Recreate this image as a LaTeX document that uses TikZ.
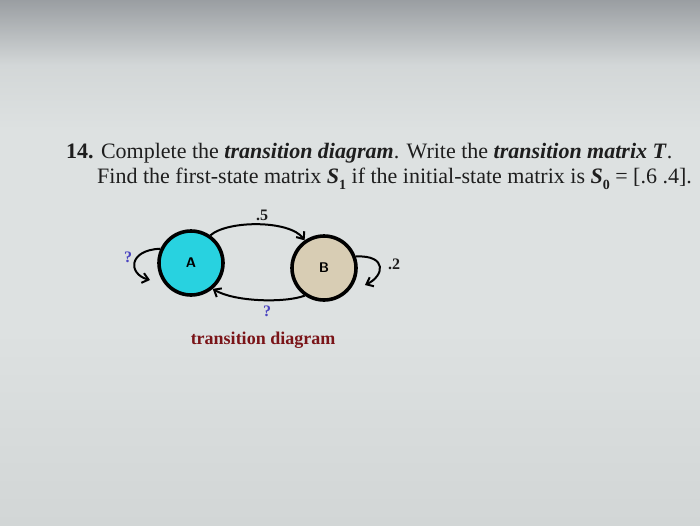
\documentclass[tikz,border=0pt]{standalone}
\usepackage{fontspec}
\setmainfont{Liberation Serif}
\usetikzlibrary{arrows.meta}
\definecolor{bgtop}{HTML}{9A9EA2}
\definecolor{bgmid}{HTML}{DDE1E1}
\definecolor{bgbot}{HTML}{D2D6D6}
\definecolor{stateA}{HTML}{28D2E0}
\definecolor{stateB}{HTML}{D8CDB4}
\definecolor{qblue}{HTML}{4A44C0}
\definecolor{capred}{HTML}{7A1418}
\definecolor{txt}{HTML}{1E1E1E}
\newcommand{\subbf}[1]{\raisebox{-0.3em}{\fontsize{14}{16}\selectfont\textbf{#1}}}
\tikzset{
  state/.style={circle, draw=black, line width=3.6pt, minimum size=64pt, inner sep=0pt, font=\sffamily\bfseries\fontsize{14}{16}\selectfont},
  trans/.style={line width=2pt, -{Straight Barb[length=6pt,width=10pt,line width=2pt]}},
  lbl/.style={font=\bfseries\fontsize{16}{18}\selectfont, text=txt},
  qlbl/.style={font=\bfseries\fontsize{16}{18}\selectfont, text=qblue},
}
\begin{document}
\begin{tikzpicture}[x=1pt,y=-1pt]
\useasboundingbox (0,0) rectangle (700,525);
\shade[top color=bgtop, bottom color=bgmid, middle color=bgmid!85!bgtop] (0,0) rectangle (700,130);
\fill[bgmid] (0,130) rectangle (700,330);
\shade[top color=bgmid, bottom color=bgbot] (0,330) rectangle (700,525);
% text
\node[anchor=base west, inner sep=0pt, text=txt, font=\fontsize{22}{26}\selectfont] (l1) at (66,158)
  {\textbf{14.} Complete the \textbf{\textit{transition diagram}}. Write the \textbf{\textit{transition matrix T}}.};
\node[anchor=base west, inner sep=0pt, text=txt, font=\fontsize{22}{26}\selectfont] (l2) at (97,183)
  {Find the first-state matrix \textbf{\textit{S}}\subbf{1} if the initial-state matrix is \textbf{\textit{S}}\subbf{0} = [.6 .4].};
% states
\node[state, fill=stateA] (A) at (191,263) {A};
\node[state, fill=stateB] (B) at (324,268) {B};
\coordinate (Aend) at (150,280);
\coordinate (Bend) at (365,285);
\draw[trans] (A.55) .. controls (228,220) and (290,220) .. (B.125);
\draw[trans] (B.-125) .. controls (285,303) and (235,302) .. (A.-50);
\draw[trans] (A.155) .. controls (128,250) and (128,274) .. (Aend);
\draw[trans] (B.20) .. controls (388,255) and (384,276) .. (Bend);
\node[lbl] (p5) at (262,215) {.5};
\node[lbl] (p2) at (394,264) {.2};
\node[qlbl] (qa) at (128,257) {?};
\node[qlbl] (qb) at (267,311) {?};
\node[font=\bfseries\fontsize{18}{20}\selectfont, text=capred] (cap) at (263,340) {transition diagram};
\end{tikzpicture}
\end{document}
